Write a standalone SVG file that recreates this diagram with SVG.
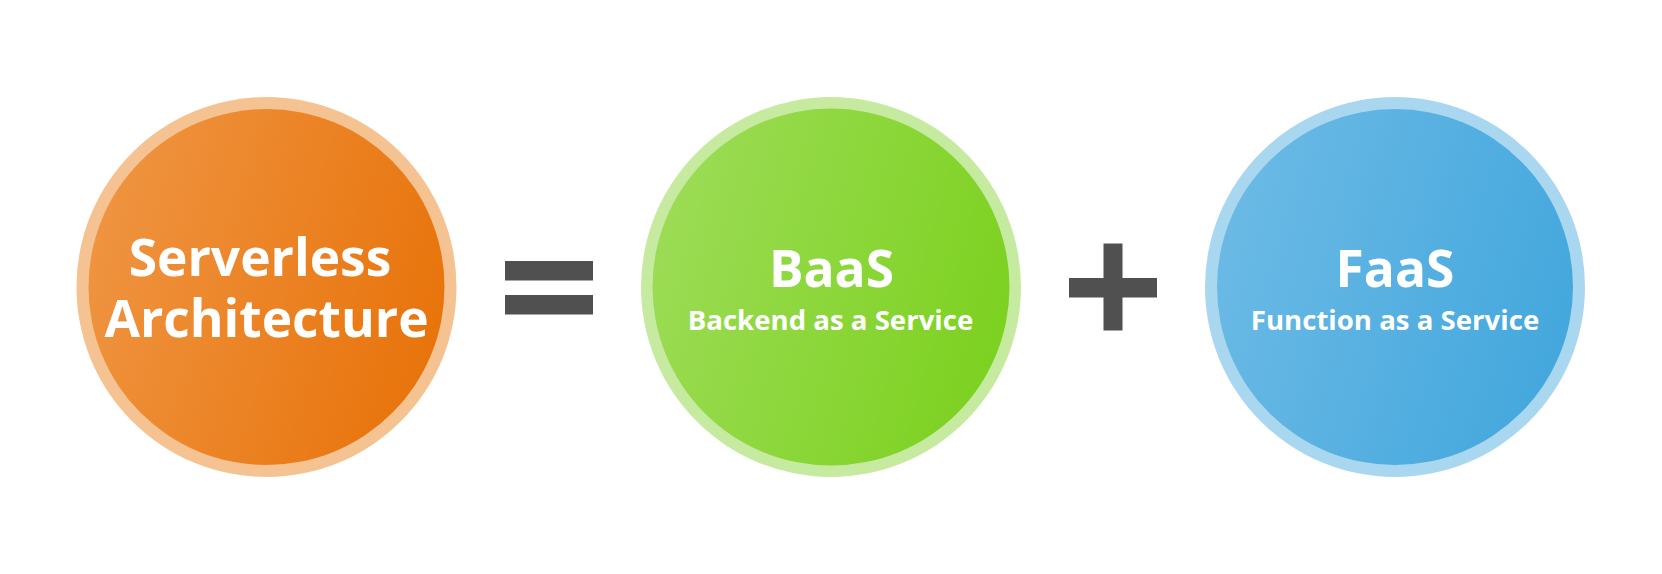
<svg xmlns="http://www.w3.org/2000/svg" width="1662" height="574" viewBox="0 0 1662 574">
<defs>
<linearGradient id="gO" x1="0" y1="0.35" x2="1" y2="0.65"><stop offset="0" stop-color="#EF9441"/><stop offset="1" stop-color="#E8730A"/></linearGradient>
<linearGradient id="gG" x1="0" y1="0.35" x2="1" y2="0.65"><stop offset="0" stop-color="#9CDC56"/><stop offset="1" stop-color="#7CD11F"/></linearGradient>
<linearGradient id="gB" x1="0" y1="0.35" x2="1" y2="0.65"><stop offset="0" stop-color="#6BBAE5"/><stop offset="1" stop-color="#43A7DD"/></linearGradient>
<style>
.t{font-family:"Open Sans","Liberation Sans",sans-serif;font-weight:bold;fill:#FFFFFF;text-anchor:middle}
.big{font-size:51.5px}
.sub{font-size:27.6px}
.op{fill:#505050}
</style>
</defs>
<rect width="1662" height="574" fill="#FFFFFF"/>
<g id="serverless">
<circle cx="266.5" cy="287" r="190" fill="#F5C291"/>
<circle cx="266.5" cy="287" r="178" fill="url(#gO)"/>
<text class="t big" x="260" y="275.5">Serverless</text>
<text class="t big" x="266.5" y="337">Architecture</text>
</g>
<g id="baas">
<circle cx="831" cy="287" r="190" fill="#C6EAA0"/>
<circle cx="831" cy="287" r="178.5" fill="url(#gG)"/>
<text class="t big" x="831.5" y="287">BaaS</text>
<text class="t sub" x="830.5" y="330">Backend as a Service</text>
</g>
<g id="faas">
<circle cx="1395" cy="287" r="190" fill="#A9D7F0"/>
<circle cx="1395" cy="287" r="178" fill="url(#gB)"/>
<text class="t big" x="1395" y="287">FaaS</text>
<text class="t sub" x="1395" y="330">Function as a Service</text>
</g>
<g id="operators">
<rect class="op" x="505" y="261" width="88" height="19.5"/>
<rect class="op" x="505" y="295" width="88" height="19.5"/>
<rect class="op" x="1103.5" y="243.5" width="19" height="87"/>
<rect class="op" x="1069" y="278" width="88" height="19.5"/>
</g>
</svg>
